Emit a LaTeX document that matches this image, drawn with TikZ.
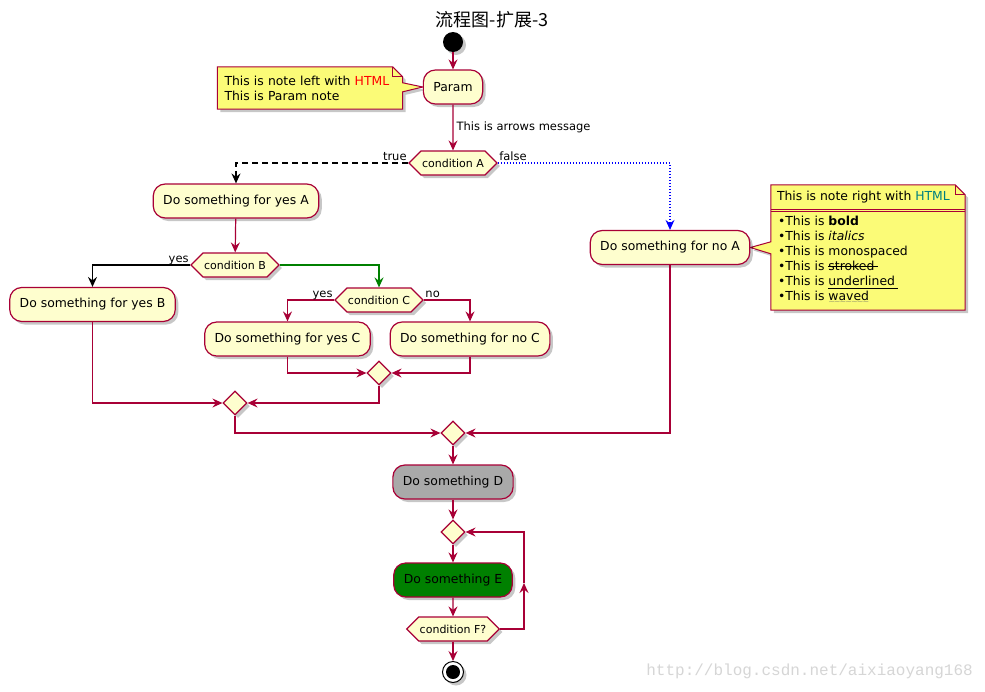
\documentclass[tikz,border=0pt]{standalone}
\usepackage{fontspec}
\setmainfont{DejaVu Sans}
\newfontfamily\cjk{Noto Sans CJK SC}
\newfontfamily\wmfont{Liberation Mono}
\usepackage{xcolor}
\usepackage{tikz}
\usetikzlibrary{shapes,shapes.geometric,shapes.symbols,arrows.meta,shadows,backgrounds}
\definecolor{umlred}{HTML}{A80036}
\definecolor{umlfill}{HTML}{FEFECE}
\definecolor{notefill}{HTML}{FBFB77}
\definecolor{grayfill}{HTML}{A9A9A9}
\definecolor{greenfill}{HTML}{008000}
\definecolor{htmlteal}{HTML}{008080}
\definecolor{wavecol}{HTML}{A8A870}
\definecolor{wmgray}{HTML}{D6D6D6}
\newcommand\strk[1]{\setbox0\hbox{#1}\rlap{\rule[0.3em]{\dimexpr\wd0+4pt\relax}{0.9pt}}\box0}
\newcommand\undl[1]{\setbox0\hbox{#1}\rlap{\rule[-0.2em]{\dimexpr\wd0+3pt\relax}{0.9pt}}\box0}
\newcommand\wavy[1]{\setbox0\hbox{#1}\rlap{\raisebox{-3.5pt}[0pt][0pt]{\hbox to \wd0{\textcolor{wavecol}{\fontsize{8}{8}\selectfont\xleaders\hbox{\kern-0.1em∼\kern-0.1em}\hfill}}}}\box0}
\tikzset{umlshadow/.style={drop shadow={shadow xshift=3pt,shadow yshift=-3pt,fill=black,opacity=0.22}},
    act/.style={rectangle,rounded corners=12pt,draw=umlred,fill=umlfill,line width=1.2pt,minimum height=34pt,inner xsep=10pt,font=\fontsize{12.4}{15}\selectfont,umlshadow},
    cond/.style={signal,signal to=east and west,signal pointer angle=90,draw=umlred,fill=umlfill,line width=1.2pt,minimum height=24pt,inner xsep=1pt,font=\fontsize{11}{13}\selectfont,umlshadow},
    merge/.style={diamond,draw=umlred,fill=umlfill,line width=1.2pt,minimum size=24pt,inner sep=0pt,umlshadow},
    flow/.style={draw=umlred,line width=1.2pt,-{Stealth[length=10pt,width=9pt,inset=3.5pt]}},
    lbl/.style={font=\fontsize{11.5}{13}\selectfont,inner sep=1pt},
    notetxt/.style={align=left,inner xsep=7pt,font=\fontsize{12.4}{15}\selectfont},
    notebox/.style={draw=umlred,fill=notefill,line width=1pt,umlshadow}}

\begin{document}
\begin{tikzpicture}[x=1pt,y=-1pt]
    \useasboundingbox (0,0) rectangle (985,691);

    \node[font=\cjk\fontsize{18}{20}\selectfont] (title) at (492,20) {流程图-扩展-3};
    \node[circle,fill=black,minimum size=20pt,inner sep=0pt,umlshadow] (start) at (453,42) {};
    \node[act] (param) at (453,87) {Param};
    \node[notetxt,text width=171pt,minimum height=42pt] (pnote) at (310,88) {This is note left with \textcolor{red}{HTML}\\This is Param note};
    \node[cond] (condA) at (453,163) {condition A};
    \node[act] (yesA) at (236,201) {Do something for yes A};
    \node[act] (noA) at (670,247.5) {Do something for no A};
    \node[minimum width=194pt,minimum height=125pt,inner sep=0pt] (rnote) at (868,247.5) {};
    \node[notetxt,anchor=west,inner xsep=0pt] (rhead) at ([shift={(6pt,-12pt)}]rnote.north west) {This is note right with \textcolor{htmlteal}{HTML}};
    \node[notetxt,anchor=north west,inner sep=0pt] (ritems) at ([shift={(7pt,-31.5pt)}]rnote.north west) {•This is \textbf{bold}\\•This is \textit{italics}\\•This is monospaced\\•This is \strk{stroked}\\•This is \undl{underlined}\\•This is \wavy{waved}};
    \node[cond] (condB) at (235,265) {condition B};
    \node[act] (yesB) at (92.5,304.5) {Do something for yes B};
    \node[cond] (condC) at (379,300) {condition C};
    \node[act] (yesC) at (287.5,339) {Do something for yes C};
    \node[act] (noC) at (470,339) {Do something for no C};
    \node[merge] (mergeC) at (379,373) {};
    \node[merge] (mergeB) at (235,403) {};
    \node[merge] (mergeA) at (453,433) {};
    \node[act,fill=grayfill] (D) at (453,482) {Do something D};
    \node[merge] (loop) at (453,532) {};
    \node[act,fill=greenfill] (E) at (453,580) {Do something E};
    \node[cond] (condF) at (453,629) {condition F?};
    \node[circle,draw=black,fill=white,line width=1pt,minimum size=21pt,inner sep=0pt,umlshadow] (stop) at (453,672) {};
    \fill (stop.center) circle (7pt);
    \coordinate (backmid) at (524,583);
    \node[anchor=east,text=wmgray,font=\wmfont\fontsize{16}{16}\selectfont,inner sep=0pt] (mark) at (973,671) {http://blog.csdn.net/aixiaoyang168};

    % notes
    \begin{scope}[on background layer]
    \fill[white] (0,0) rectangle (985,691);
    \draw[notebox] (pnote.north west) -- ([xshift=-10pt]pnote.north east) -- ([yshift=-10pt]pnote.north east) -- ([yshift=-16pt]pnote.north east) -- (param.west) -- ([yshift=-25pt]pnote.north east) -- (pnote.south east) -- (pnote.south west) -- cycle;
    \draw[notebox] (rnote.north west) -- ([xshift=-10pt]rnote.north east) -- ([yshift=-10pt]rnote.north east) -- (rnote.south east) -- (rnote.south west) -- ([yshift=-69pt]rnote.north west) -- (noA.east) -- ([yshift=-57pt]rnote.north west) -- cycle;
    \end{scope}
    \draw[draw=umlred,line width=1pt] ([xshift=-10pt]pnote.north east) |- ([yshift=-10pt]pnote.north east);
    \draw[draw=umlred,line width=1pt] ([xshift=-10pt]rnote.north east) |- ([yshift=-10pt]rnote.north east);
    \draw[draw=umlred,line width=1pt] ([yshift=-24.5pt]rnote.north west) -- ([yshift=-24.5pt]rnote.north east);
    \draw[draw=umlred,line width=1pt] ([yshift=-27pt]rnote.north west) -- ([yshift=-27pt]rnote.north east);

    % arrows
    \draw [flow] (start) to (param);
    \draw [flow] (param) to node[lbl,anchor=west,xshift=2pt]{This is arrows message} (condA);
    \draw [flow,draw=black,dash pattern=on 6pt off 4pt] (condA.west) node[lbl,anchor=base east,yshift=3pt]{true} -| (yesA.north);
    \draw [flow,draw=blue,dash pattern=on 1pt off 2pt] (condA.east) node[lbl,anchor=base west,yshift=3pt]{false} -| (noA.north);
    \draw [flow] (yesA) to (condB);
    \draw [flow,draw=black] (condB.west) node[lbl,anchor=base east,yshift=3pt]{yes} -| (yesB.north);
    \draw [flow,draw=greenfill,line width=2.5pt] (condB.east) -| (condC.north);
    \draw [flow] (condC.west) node[lbl,anchor=base east,yshift=3pt]{yes} -| (yesC.north);
    \draw [flow] (condC.east) node[lbl,anchor=base west,yshift=3pt]{no} -| (noC.north);
    \draw [flow] (yesC.south) |- (mergeC.west);
    \draw [flow] (noC.south) |- (mergeC.east);
    \draw [flow] (yesB.south) |- (mergeB.west);
    \draw [flow] (mergeC.south) |- (mergeB.east);
    \draw [flow] (mergeB.south) |- (mergeA.west);
    \draw [flow] (noA.south) |- (mergeA.east);
    \draw [flow] (mergeA) to (D);
    \draw [flow] (D) to (loop);
    \draw [flow] (loop) to (E);
    \draw [flow] (E) to (condF);
    \draw [flow] (condF) to (stop);
    \draw [flow] (condF.east) -| (backmid);
    \draw [flow] (backmid) |- (loop.east);
\end{tikzpicture}
\end{document}
